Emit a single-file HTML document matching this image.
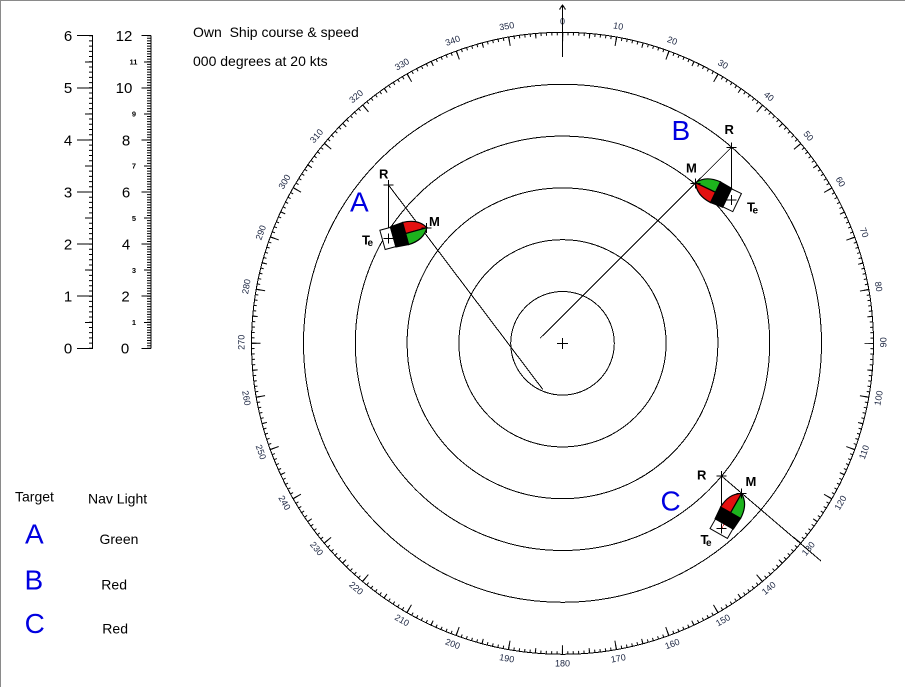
<!DOCTYPE html>
<html><head><meta charset="utf-8"><style>html,body{margin:0;padding:0;background:#fff;}svg{display:block;}</style></head>
<body>
<svg width="905" height="687" viewBox="0 0 905 687" xmlns="http://www.w3.org/2000/svg" font-family="'Liberation Sans', Arial, sans-serif">
<rect width="905" height="687" fill="#fff"/>
<line x1="0.5" y1="0" x2="0.5" y2="687" stroke="#8a8a8a"/>
<line x1="0" y1="0.5" x2="905" y2="0.5" stroke="#8a8a8a"/>

<!-- Left scale 0-6 -->
<g stroke="#000" stroke-width="1" shape-rendering="crispEdges">
<line x1="92.5" y1="35.7" x2="92.5" y2="348.3"/>
<path d="M77,348.3H93M77,296.2H93M77,244.1H93M77,192H93M77,139.9H93M77,87.8H93M77,35.7H93"/>
<path d="M85,322.25H93M85,270.15H93M85,218.05H93M85,165.95H93M85,113.85H93M85,61.75H93"/>
</g>
<path d="M91,348.8V35" stroke="#000" stroke-width="4" stroke-dasharray="1 4.21" fill="none"/>
<g font-size="15" text-anchor="middle" fill="#000">
<text x="68" y="353.7">0</text><text x="68" y="301.6">1</text><text x="68" y="249.5">2</text>
<text x="68" y="197.4">3</text><text x="68" y="145.3">4</text><text x="68" y="93.2">5</text><text x="68" y="41.1">6</text>
</g>

<!-- Right scale 0-12 -->
<g stroke="#000" stroke-width="1" shape-rendering="crispEdges">
<line x1="151" y1="35.7" x2="151" y2="348.3"/>
<path d="M141.5,348.3H151M141.5,296.2H151M141.5,244.1H151M141.5,192H151M141.5,139.9H151M141.5,87.8H151M141.5,35.7H151"/>
<path d="M144,322.25H151M144,270.15H151M144,218.05H151M144,165.95H151M144,113.85H151M144,61.75H151"/>
</g>
<path d="M149,348.8V35" stroke="#000" stroke-width="4" stroke-dasharray="1 1.605" fill="none"/>
<g font-size="15" text-anchor="middle" fill="#000">
<text x="125" y="353.7">0</text><text x="125.5" y="301.6">2</text><text x="126" y="249.5">4</text>
<text x="126" y="197.4">6</text><text x="126" y="145.3">8</text><text x="124" y="93.2">10</text><text x="124" y="41.1">12</text>
</g>
<g font-size="7.5" font-weight="bold" text-anchor="middle" fill="#000">
<text x="134" y="325">1</text><text x="134" y="272.9">3</text><text x="134" y="220.8">5</text>
<text x="134" y="168.7">7</text><text x="134" y="116.6">9</text><text x="133.5" y="64.5">11</text>
</g>

<!-- Own ship text -->
<text x="193" y="37" font-size="14" fill="#000" style="white-space:pre">Own  Ship course &amp; speed</text>
<text x="193" y="66" font-size="14" fill="#000">000 degrees at 20 kts</text>

<!-- Legend -->
<text x="15" y="501.7" font-size="14" fill="#000">Target</text>
<text x="88" y="503.3" font-size="14" fill="#000">Nav Light</text>
<text x="25" y="543.3" font-size="28" fill="#0000e0">A</text>
<text x="99.5" y="544" font-size="14" fill="#000">Green</text>
<text x="24.5" y="589.3" font-size="28" fill="#0000e0">B</text>
<text x="101.3" y="589.3" font-size="14" fill="#000">Red</text>
<text x="24.6" y="633" font-size="28" fill="#0000e0">C</text>
<text x="102.3" y="633.3" font-size="14" fill="#000">Red</text>

<!-- Rings -->
<g fill="none" stroke="#000" stroke-width="1" shape-rendering="crispEdges">
<circle cx="562.5" cy="343.3" r="51.8"/>
<circle cx="562.5" cy="343.3" r="103.6"/>
<circle cx="562.5" cy="343.3" r="155.4"/>
<circle cx="562.5" cy="343.3" r="207.2"/>
<circle cx="562.5" cy="343.3" r="259"/>
<circle cx="562.5" cy="343.3" r="311"/>
</g>
<!-- Compass ticks -->
<circle cx="562.5" cy="343.3" r="309.5" fill="none" stroke="#000" stroke-width="3" stroke-dasharray="1 4.401794" stroke-dashoffset="0.5"/>
<circle cx="562.5" cy="343.3" r="308.5" fill="none" stroke="#000" stroke-width="5" stroke-dasharray="1 25.9217" stroke-dashoffset="0.5"/>
<circle cx="562.5" cy="343.3" r="306.5" fill="none" stroke="#000" stroke-width="9" stroke-dasharray="1 52.49434" stroke-dashoffset="0.5"/>

<!-- Compass labels -->
<g font-size="9" fill="#1a2440" text-anchor="middle" dominant-baseline="central">
<text x="562.5" y="21.3">0</text>
<text x="618.24" y="26.18" transform="rotate(10 618.24 26.18)">10</text>
<text x="672.29" y="40.66" transform="rotate(20 672.29 40.66)">20</text>
<text x="723" y="64.3" transform="rotate(30 723 64.3)">30</text>
<text x="768.84" y="96.4" transform="rotate(40 768.84 96.4)">40</text>
<text x="808.4" y="135.96" transform="rotate(50 808.4 135.96)">50</text>
<text x="840.5" y="181.8" transform="rotate(60 840.5 181.8)">60</text>
<text x="864.14" y="232.51" transform="rotate(70 864.14 232.51)">70</text>
<text x="878.62" y="286.56" transform="rotate(80 878.62 286.56)">80</text>
<text x="883.5" y="342.3" transform="rotate(-90 883.5 342.3)">90</text>
<text x="878.62" y="398.04" transform="rotate(-80 878.62 398.04)">100</text>
<text x="864.14" y="452.09" transform="rotate(-70 864.14 452.09)">110</text>
<text x="840.5" y="502.8" transform="rotate(-60 840.5 502.8)">120</text>
<text x="808.4" y="548.64" transform="rotate(-50 808.4 548.64)">130</text>
<text x="768.84" y="588.2" transform="rotate(-40 768.84 588.2)">140</text>
<text x="723" y="620.3" transform="rotate(-30 723 620.3)">150</text>
<text x="672.29" y="643.94" transform="rotate(-20 672.29 643.94)">160</text>
<text x="618.24" y="658.42" transform="rotate(-10 618.24 658.42)">170</text>
<text x="562.5" y="663.3">180</text>
<text x="506.76" y="658.42" transform="rotate(10 506.76 658.42)">190</text>
<text x="452.71" y="643.94" transform="rotate(20 452.71 643.94)">200</text>
<text x="402" y="620.3" transform="rotate(30 402 620.3)">210</text>
<text x="356.16" y="588.2" transform="rotate(40 356.16 588.2)">220</text>
<text x="316.6" y="548.64" transform="rotate(50 316.6 548.64)">230</text>
<text x="284.5" y="502.8" transform="rotate(60 284.5 502.8)">240</text>
<text x="260.86" y="452.09" transform="rotate(70 260.86 452.09)">250</text>
<text x="246.38" y="398.04" transform="rotate(80 246.38 398.04)">260</text>
<text x="241.5" y="342.3" transform="rotate(-90 241.5 342.3)">270</text>
<text x="246.38" y="286.56" transform="rotate(-80 246.38 286.56)">280</text>
<text x="260.86" y="232.51" transform="rotate(-70 260.86 232.51)">290</text>
<text x="284.5" y="181.8" transform="rotate(-60 284.5 181.8)">300</text>
<text x="316.6" y="135.96" transform="rotate(-50 316.6 135.96)">310</text>
<text x="356.16" y="96.4" transform="rotate(-40 356.16 96.4)">320</text>
<text x="402" y="64.3" transform="rotate(-30 402 64.3)">330</text>
<text x="452.71" y="40.66" transform="rotate(-20 452.71 40.66)">340</text>
<text x="506.76" y="26.18" transform="rotate(-10 506.76 26.18)">350</text>
</g>

<!-- Own ship heading and center -->
<g stroke="#000" stroke-width="1" fill="none" shape-rendering="crispEdges">
<path d="M562.5,57V5M559.5,9.5L562.5,5L565.5,9.5"/>
<path d="M557,343.5H568M562.5,338V349"/>
<!-- relative motion lines -->
<path d="M388.5,185L542.7,389.3M388.5,185V238.5"/>
<path d="M540,338.3L731.5,147.3M731.5,147.3V200"/>
<path d="M721.5,476L821,561M721.5,476V528.5"/>
</g>

<!-- Ships -->
<g transform="translate(388.3,238.3) rotate(-15.4)">
<rect x="-6" y="-10" width="11" height="20" fill="#fff" stroke="#000" stroke-width="1"/>
<path d="M5,-10.5L18,-11.5L18,11.5L5,10.5Z" fill="#000" stroke="#000"/>
<path d="M18,-11.5Q34,-11 40,0L18,0Z" fill="#e31010" stroke="#000" stroke-width="1.2"/>
<path d="M18,11.5Q34,11 40,0L18,0Z" fill="#1db31d" stroke="#000" stroke-width="1.2"/>
</g>
<g transform="translate(731.7,200) rotate(-154.4)">
<rect x="-6" y="-10" width="11" height="20" fill="#fff" stroke="#000" stroke-width="1"/>
<path d="M5,-10.5L18,-11.5L18,11.5L5,10.5Z" fill="#000" stroke="#000"/>
<path d="M18,-11.5Q34,-11 40,0L18,0Z" fill="#e31010" stroke="#000" stroke-width="1.2"/>
<path d="M18,11.5Q34,11 40,0L18,0Z" fill="#1db31d" stroke="#000" stroke-width="1.2"/>
</g>
<g transform="translate(721.7,528.3) rotate(-60.3)">
<rect x="-6" y="-10" width="11" height="20" fill="#fff" stroke="#000" stroke-width="1"/>
<line x1="0" y1="0" x2="6" y2="0" stroke="#e31010" stroke-width="1" stroke-dasharray="2 1"/>
<path d="M5,-10.5L18,-11.5L18,11.5L5,10.5Z" fill="#000" stroke="#000"/>
<path d="M18,-11.5Q34,-11 40,0L18,0Z" fill="#e31010" stroke="#000" stroke-width="1.2"/>
<path d="M18,11.5Q34,11 40,0L18,0Z" fill="#1db31d" stroke="#000" stroke-width="1.2"/>
</g>

<!-- Crosses -->
<g stroke="#000" stroke-width="1" fill="none" shape-rendering="crispEdges">
<path d="M383.5,185H393.5M388.5,180V190"/>
<path d="M421.7,228H431.7M426.7,223V233"/>
<path d="M383.5,238.5H393.5M388.5,233.5V243.5"/>
<path d="M726.5,147.3H736.5M731.5,142.3V152.3"/>
<path d="M690.7,183.3H700.7M695.7,178.3V188.3"/>
<path d="M726.5,200H736.5M731.5,195V205"/>
<path d="M716.5,476H726.5M721.5,471V481"/>
<path d="M736.7,493.3H746.7M741.7,488.3V498.3"/>
<path d="M716.5,528.5H726.5M721.5,523.5V533.5"/>
</g>

<!-- R / M / Te labels -->
<g font-weight="bold" fill="#000">
<text x="379" y="178.5" font-size="13">R</text>
<text x="429" y="226" font-size="13">M</text>
<text x="362" y="244.3" font-size="13">T</text><text x="367.5" y="246" font-size="10">e</text>
<text x="724.5" y="134" font-size="13">R</text>
<text x="686" y="172.7" font-size="13">M</text>
<text x="747" y="211.7" font-size="13">T</text><text x="752.5" y="213.5" font-size="10">e</text>
<text x="697" y="479.3" font-size="13">R</text>
<text x="745.5" y="486" font-size="13">M</text>
<text x="700.5" y="544" font-size="13">T</text><text x="706" y="546" font-size="10">e</text>
</g>

<!-- Target letters -->
<g font-size="28" fill="#0000e0">
<text x="350" y="211.7">A</text>
<text x="671.5" y="140">B</text>
<text x="660.5" y="510.5">C</text>
</g>
</svg>
</body></html>
